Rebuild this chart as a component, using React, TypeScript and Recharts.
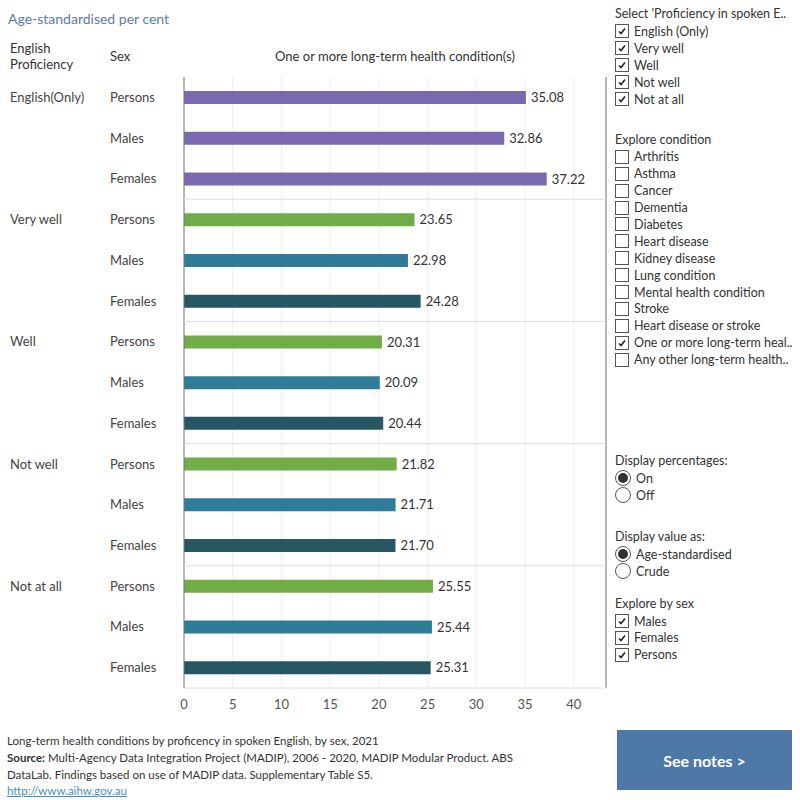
import React from 'react'
import {
  BarChart,
  Bar,
  XAxis,
  YAxis,
  CartesianGrid,
  LabelList,
  Cell,
  ReferenceLine,
} from 'recharts'

// categories
const proficiency = ['English(Only)', 'Very well', 'Well', 'Not well', 'Not at all']
const sexes = ['Persons', 'Males', 'Females']

// age-standardised per cent, Persons / Males / Females
const englishOnly = [35.08, 32.86, 37.22]
const veryWell = [23.65, 22.98, 24.28]
const well = [20.31, 20.09, 20.44]
const notWell = [21.82, 21.71, 21.7]
const notAtAll = [25.55, 25.44, 25.31]

const xTicks = [0, 5, 10, 15, 20, 25, 30, 35, 40]

const proficiencyFilter = ['English (Only)', 'Very well', 'Well', 'Not well', 'Not at all']
const conditions = [
  'Arthritis',
  'Asthma',
  'Cancer',
  'Dementia',
  'Diabetes',
  'Heart disease',
  'Kidney disease',
  'Lung condition',
  'Mental health condition',
  'Stroke',
  'Heart disease or stroke',
  'One or more long-term heal..',
  'Any other long-term health..',
]
const sexFilter = ['Males', 'Females', 'Persons']

const groups = [englishOnly, veryWell, well, notWell, notAtAll]
const rows = groups.flatMap((vals, g) =>
  vals.map((v, s) => ({ key: `${g}-${s}`, g, s, value: v }))
)

const FONT = 'Lato, "Open Sans", sans-serif'
const NARROW = '"Liberation Sans Narrow", Lato, sans-serif'
const TOP = 77
const BOTTOM = 688
const LEFT = 184
const RIGHT = 606
const BAND = (BOTTOM - TOP) / rows.length

const purple = '#7a69b1'
const sexColors = ['#71ad47', '#2e7c97', '#285764']

function RowTick(props: any) {
  const { y, payload } = props
  const [g, s] = String(payload.value).split('-').map(Number)
  return (
    <g>
      {s === 0 && g > 0 && (
        <line x1={LEFT} x2={RIGHT} y1={y - BAND / 2} y2={y - BAND / 2} stroke="#dedede" />
      )}
      {s === 0 && (
        <text x={10} y={y} dy="0.35em" fill="#444" fontSize={13} fontFamily={FONT}>
          {proficiency[g]}
        </text>
      )}
      <text x={110} y={y} dy="0.35em" fill="#444" fontSize={13} fontFamily={FONT}>
        {sexes[s]}
      </text>
    </g>
  )
}

function Check({ on }: { on: boolean }) {
  return (
    <svg width={14} height={14} style={{ display: 'block' }}>
      <rect x={0.5} y={0.5} width={13} height={13} fill="#fff" stroke="#555" />
      {on && <path d="M4 7.5 L6 9.5 L10 4.5" fill="none" stroke="#222" strokeWidth={1.6} />}
    </svg>
  )
}

function Radio({ on }: { on: boolean }) {
  return (
    <svg width={16} height={16} style={{ display: 'block' }}>
      <circle cx={8} cy={8} r={7.5} fill="#fff" stroke="#555" />
      {on && <circle cx={8} cy={8} r={5} fill="#333" />}
    </svg>
  )
}

function Item({ label, children }: { label: string; children: React.ReactNode }) {
  return (
    <div style={{ display: 'flex', alignItems: 'center', height: 16.9, gap: 5 }}>
      {children}
      <span style={{ whiteSpace: 'nowrap' }}>{label}</span>
    </div>
  )
}

const heading: React.CSSProperties = { color: '#333', marginBottom: 2, whiteSpace: 'nowrap' }

export default function App() {
  return (
    <div
      style={{
        position: 'absolute',
        left: 0,
        top: 0,
        width: 800,
        height: 800,
        background: '#fff',
        fontFamily: FONT,
        overflow: 'hidden',
      }}
    >
      <div style={{ position: 'absolute', left: 8, top: 10, fontSize: 14, color: '#5b7cad' }}>
        Age-standardised per cent
      </div>
      <div style={{ position: 'absolute', left: 10, top: 40, fontSize: 13, color: '#333', lineHeight: '16px' }}>
        English
        <br />
        Proficiency
      </div>
      <div style={{ position: 'absolute', left: 110, top: 48, fontSize: 13, color: '#333' }}>Sex</div>
      <div
        style={{
          position: 'absolute',
          left: LEFT,
          width: RIGHT - LEFT,
          top: 48,
          fontSize: 13,
          color: '#333',
          textAlign: 'center',
        }}
      >
        One or more long-term health condition(s)
      </div>

      <div style={{ position: 'absolute', left: 0, top: 0 }}>
        <BarChart
          width={RIGHT + 4}
          height={725}
          data={rows}
          layout="vertical"
          margin={{ top: TOP, right: 4, bottom: 725 - BOTTOM - 30, left: 0 }}
          barSize={13}
        >
          <CartesianGrid horizontal={false} stroke="#eeeeee" />
          <XAxis
            type="number"
            domain={[0, 43.3]}
            ticks={xTicks}
            height={30}
            axisLine={{ stroke: '#dedede' }}
            tickLine={false}
            tickMargin={6}
            tick={{ fill: '#555', fontSize: 13, fontFamily: FONT }}
          />
          <YAxis
            type="category"
            dataKey="key"
            width={LEFT}
            axisLine={{ stroke: '#777' }}
            tickLine={false}
            interval={0}
            tick={<RowTick />}
          />
          <ReferenceLine x={43.3} stroke="#777" />
          <Bar dataKey="value" isAnimationActive={false}>
            {rows.map((r) => (
              <Cell key={r.key} fill={r.g === 0 ? purple : sexColors[r.s]} />
            ))}
            <LabelList
              dataKey="value"
              position="right"
              offset={5}
              formatter={(v: any) => Number(v).toFixed(2)}
              style={{ fill: '#333', fontSize: 13, fontFamily: FONT }}
            />
          </Bar>
        </BarChart>
      </div>

      {/* filter panel */}
      <div style={{ position: 'absolute', left: 615, top: 6, fontSize: 12.5, color: '#333' }}>
        <div style={heading}>Select 'Proficiency in spoken E..</div>
        {proficiencyFilter.map((p) => (
          <Item key={p} label={p}>
            <Check on />
          </Item>
        ))}
        <div style={{ ...heading, marginTop: 25, marginBottom: 1 }}>Explore condition</div>
        {conditions.map((c, i) => (
          <Item key={c} label={c}>
            <Check on={i === 11} />
          </Item>
        ))}
      </div>
      <div style={{ position: 'absolute', left: 615, top: 453, fontSize: 12.5, color: '#333' }}>
        <div style={heading}>Display percentages:</div>
        <Item label="On">
          <Radio on />
        </Item>
        <Item label="Off">
          <Radio on={false} />
        </Item>
        <div style={{ ...heading, marginTop: 25 }}>Display value as:</div>
        <Item label="Age-standardised">
          <Radio on />
        </Item>
        <Item label="Crude">
          <Radio on={false} />
        </Item>
        <div style={{ ...heading, marginTop: 16 }}>Explore by sex</div>
        {sexFilter.map((s) => (
          <Item key={s} label={s}>
            <Check on />
          </Item>
        ))}
      </div>

      {/* footer */}
      <div
        style={{
          position: 'absolute',
          left: 7,
          top: 733,
          fontSize: 11.5,
          lineHeight: '16.8px',
          color: '#333',
          fontFamily: NARROW,
        }}
      >
        <div>Long-term health conditions by proficency in spoken English, by sex, 2021</div>
        <div>
          <b>Source:</b> Multi-Agency Data Integration Project (MADIP), 2006 - 2020, MADIP Modular Product. ABS
        </div>
        <div>DataLab. Findings based on use of MADIP data. Supplementary Table S5.</div>
        <div style={{ color: '#4a8fbf', textDecoration: 'underline' }}>http://www.aihw.gov.au</div>
      </div>
      <div
        style={{
          position: 'absolute',
          left: 617,
          top: 730,
          width: 175,
          height: 60,
          background: '#4e78a6',
          color: '#fff',
          fontWeight: 'bold',
          fontSize: 16,
          display: 'flex',
          alignItems: 'center',
          justifyContent: 'center',
        }}
      >
        See notes &gt;
      </div>
    </div>
  )
}
